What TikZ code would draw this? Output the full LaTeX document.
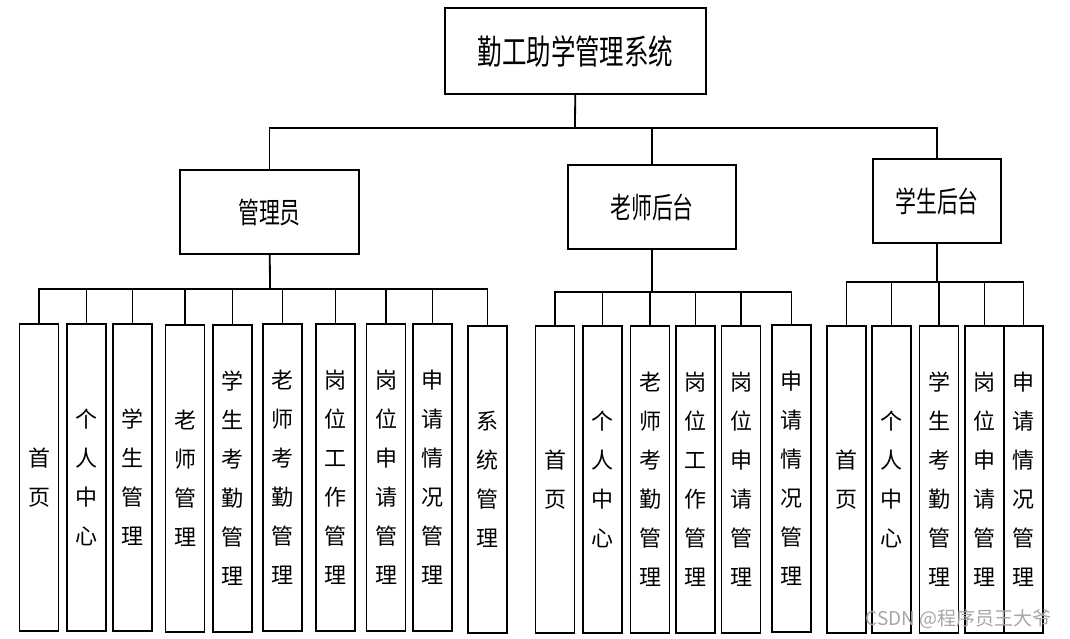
\documentclass[tikz,border=0pt]{standalone}
\usepackage{fontspec}
\usepackage{graphicx}
\newfontfamily\cjk{Noto Sans CJK SC}
\newcommand{\narrow}[1]{\scalebox{0.72}[1]{#1}}

\begin{document}
\begin{tikzpicture}[x=1pt, y=-1pt, line width=1.8pt,
  box/.style={draw, inner sep=0pt, minimum height=84pt, font=\cjk\fontsize{29}{34}\selectfont},
  leaf/.style={draw, inner sep=0pt, anchor=north, minimum width=39pt, minimum height=307pt,
    align=center, font=\cjk\fontsize{22}{39}\selectfont}]
\useasboundingbox (0,0) rectangle (1070,638);

\node[box, minimum width=261pt, minimum height=86pt, font=\cjk\fontsize{34}{40}\selectfont] (root) at (575.5,51) {\narrow{勤工助学管理系统}};
\node[box, minimum width=179pt] (adm) at (269.5,212) {\narrow{管理员}};
\node[box, minimum width=168pt] (tea) at (652,207) {\narrow{老师后台}};
\node[box, minimum width=128pt] (stu) at (937,201) {\narrow{学生后台}};

\coordinate (topbar) at (575,128);
\coordinate (admbar) at (270,289);
\coordinate (teabar) at (652,292);
\coordinate (stubar) at (937,282);

% admin
\node[leaf] (a1) at (39,323) {首\\页};
\node[leaf] (a2) at (86.5,323) {个\\人\\中\\心};
\node[leaf] (a3) at (132.5,323) {学\\生\\管\\理};
\node[leaf] (a4) at (185,324) {老\\师\\管\\理};
\node[leaf] (a5) at (232.5,324) {学\\生\\考\\勤\\管\\理};
\node[leaf] (a6) at (282.5,323) {老\\师\\考\\勤\\管\\理};
\node[leaf] (a7) at (335.5,323) {岗\\位\\工\\作\\管\\理};
\node[leaf] (a8) at (386,323) {岗\\位\\申\\请\\管\\理};
\node[leaf] (a9) at (432.5,323) {申\\请\\情\\况\\管\\理};
\node[leaf] (a10) at (487.5,325) {系\\统\\管\\理};

% teacher
\node[leaf] (t1) at (555,325) {首\\页};
\node[leaf] (t2) at (602.5,325) {个\\人\\中\\心};
\node[leaf] (t3) at (650,325) {老\\师\\考\\勤\\管\\理};
\node[leaf] (t4) at (695.5,325) {岗\\位\\工\\作\\管\\理};
\node[leaf] (t5) at (741,325) {岗\\位\\申\\请\\管\\理};
\node[leaf] (t6) at (791.5,324) {申\\请\\情\\况\\管\\理};

% student
\node[leaf] (s1) at (846.5,325) {首\\页};
\node[leaf] (s2) at (891.5,325) {个\\人\\中\\心};
\node[leaf] (s3) at (939,325) {学\\生\\考\\勤\\管\\理};
\node[leaf] (s4) at (984.5,325) {岗\\位\\申\\请\\管\\理};
\node[leaf] (s5) at (1023.5,325) {申\\请\\情\\况\\管\\理};

% connectors
\draw (root) -- (topbar);
\draw (adm) -- (adm |- topbar) -- (stu |- topbar) -- (stu);
\draw (tea) -- (tea |- topbar);

\draw (adm) -- (admbar);
\draw (a1) -- (a1 |- admbar) -- (a10 |- admbar) -- (a10);
\foreach \i in {2,...,9}
  \draw (a\i) -- (a\i |- admbar);

\draw (tea) -- (teabar);
\draw (t1) -- (t1 |- teabar) -- (t6 |- teabar) -- (t6);
\foreach \i in {2,...,5}
  \draw (t\i) -- (t\i |- teabar);

\draw (stu) -- (stubar);
\draw (s1) -- (s1 |- stubar) -- (s5 |- stubar) -- (s5);
\foreach \i in {2,...,4}
  \draw (s\i) -- (s\i |- stubar);

\node[text=black!35, anchor=east, font=\cjk\fontsize{19}{21}\selectfont] (mark) at (1056,619) {CSDN @程序员王大爷};
\end{tikzpicture}
\end{document}
